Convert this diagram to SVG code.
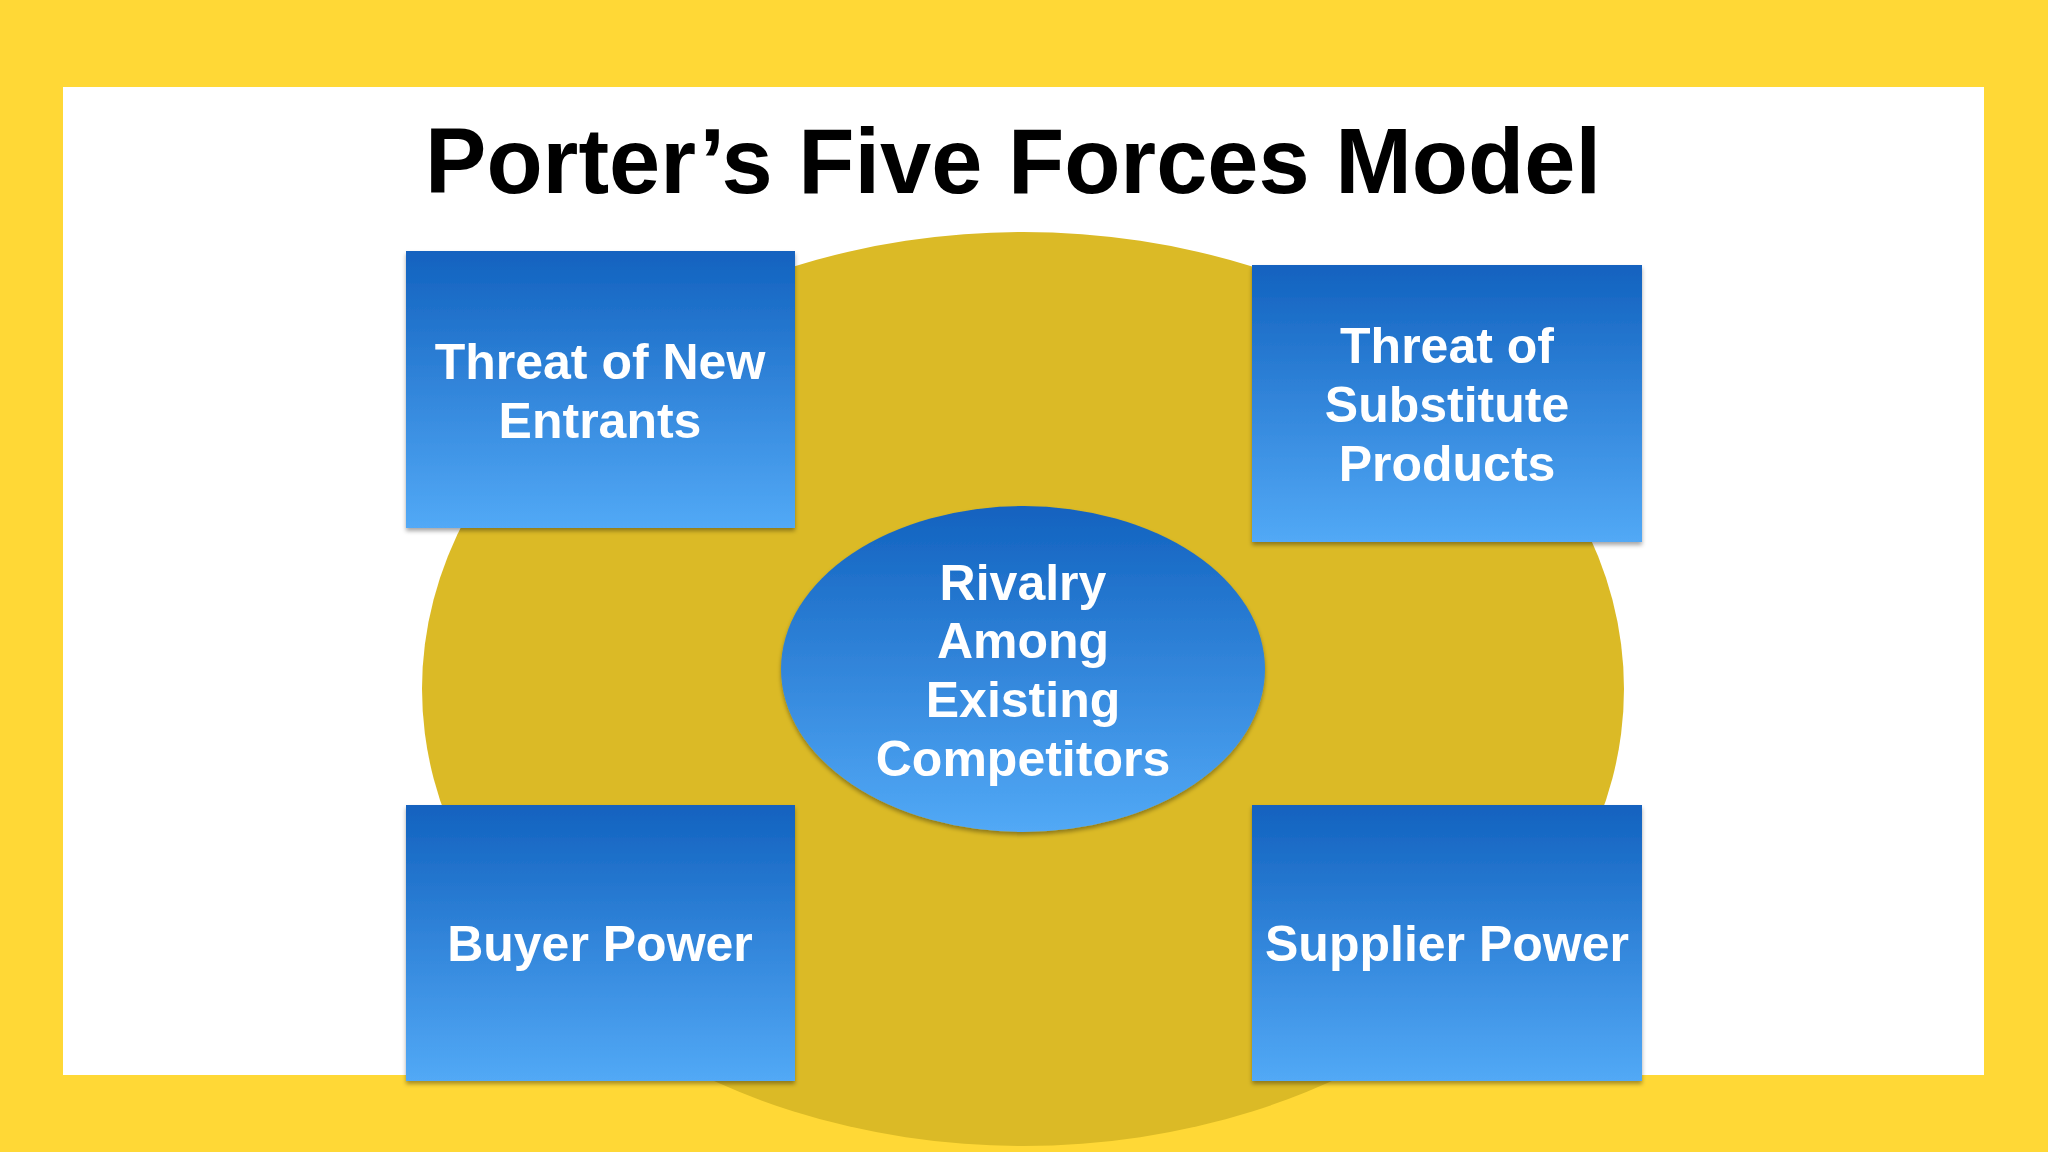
<svg xmlns="http://www.w3.org/2000/svg" width="2048" height="1152" viewBox="0 0 2048 1152">
<defs>
<linearGradient id="g" x1="0" y1="0" x2="0" y2="1"><stop offset="0" stop-color="#1262BF"/><stop offset="1" stop-color="#52A9F6"/></linearGradient>
<clipPath id="c"><rect x="0" y="232" width="2048" height="920"/></clipPath>
<filter id="s" x="-10%" y="-10%" width="120%" height="120%"><feDropShadow dx="0" dy="3" stdDeviation="2" flood-opacity="0.35"/></filter>
<style>
.t{font-family:"Liberation Sans",Arial,sans-serif;font-weight:bold;font-size:50px;fill:#fff;text-anchor:middle}
.b{fill:url(#g);filter:url(#s)}
</style>
</defs>
<rect width="2048" height="1152" fill="#FFD836"/>
<rect x="63" y="87" width="1921" height="988" fill="#fff"/>
<text x="1013" y="193" font-family="Liberation Sans,Arial,sans-serif" font-weight="bold" font-size="92" text-anchor="middle" fill="#000">Porter’s Five Forces Model</text>
<ellipse cx="1023" cy="689" rx="601" ry="457" fill="#DBBA26" clip-path="url(#c)"/>
<g id="center"><ellipse class="b" cx="1023" cy="669" rx="242" ry="163"/>
<text class="t" x="1023" y="600">Rivalry</text><text class="t" x="1023" y="658">Among</text><text class="t" x="1023" y="717">Existing</text><text class="t" x="1023" y="776">Competitors</text></g>
<g id="newentrants"><rect class="b" x="406" y="251" width="389" height="277"/>
<text class="t" x="600" y="379">Threat of New</text><text class="t" x="600" y="438">Entrants</text></g>
<g id="substitutes"><rect class="b" x="1252" y="265" width="390" height="277"/>
<text class="t" x="1447" y="363">Threat of</text><text class="t" x="1447" y="422">Substitute</text><text class="t" x="1447" y="481">Products</text></g>
<g id="buyer"><rect class="b" x="406" y="805" width="389" height="276"/>
<text class="t" x="600" y="961">Buyer Power</text></g>
<g id="supplier"><rect class="b" x="1252" y="805" width="390" height="276"/>
<text class="t" x="1447" y="961">Supplier Power</text></g>
<g id="connectors"/>
</svg>
